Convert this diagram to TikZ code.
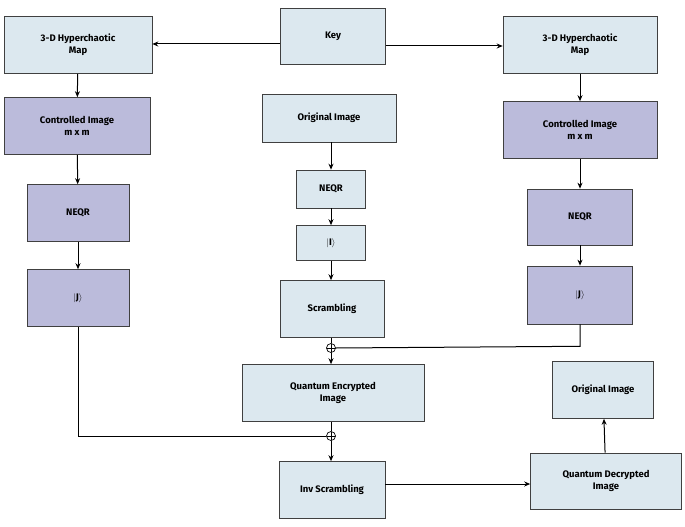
\documentclass[tikz,border=0pt]{standalone}
\usepackage{fontspec}
\setmainfont{Fira Sans}
\usetikzlibrary{arrows.meta}
\definecolor{lb}{HTML}{DCE8EF}
\definecolor{pu}{HTML}{BBBBDB}
\begin{document}
\begin{tikzpicture}[x=1pt,y=-1pt,
 bx/.style={draw=black!75,line width=0.6pt,fill=lb,align=center,font=\bfseries\fontsize{9.5}{12}\selectfont,inner sep=0pt},
 pb/.style={bx,fill=pu},
 ar/.style={-{Stealth[length=6pt,width=5pt]},line width=1pt},
 ln/.style={line width=1pt},
 ox/.style={circle,draw,line width=0.7pt,minimum size=9pt,inner sep=0pt,
   path picture={\draw[line width=0.7pt] (path picture bounding box.north)--(path picture bounding box.south) (path picture bounding box.west)--(path picture bounding box.east);}}]
\useasboundingbox[fill=white] (0,0) rectangle (685,527);
\node[bx,minimum width=105,minimum height=56] (key) at (333,36) {Key};
\node[bx,minimum width=148,minimum height=57] (lh) at (78,45) {3-D Hyperchaotic\\Map};
\node[bx,minimum width=154,minimum height=57] (rh) at (580,45) {3-D Hyperchaotic\\Map};
\node[pb,minimum width=146,minimum height=57] (lc) at (77,126) {Controlled Image\\m x m};
\node[bx,minimum width=134,minimum height=48] (oi) at (329,118) {Original Image};
\node[pb,minimum width=154,minimum height=57] (rc) at (580,130) {Controlled Image\\m x m};
\node[pb,minimum width=102,minimum height=57] (ln1) at (78,213) {NEQR};
\node[bx,minimum width=69,minimum height=38] (cn) at (331,189) {NEQR};
\node[pb,minimum width=105,minimum height=56] (rn) at (580,217) {NEQR};
\node[pb,minimum width=102,minimum height=57] (lj) at (78,298) {$|\mathbf{J}\rangle$};
\node[bx,minimum width=69,minimum height=35] (ci) at (331,243) {$|\mathbf{I}\rangle$};
\node[bx,minimum width=104,minimum height=57] (sc) at (332,309) {Scrambling};
\node[pb,minimum width=105,minimum height=58] (rj) at (580,295) {$|\mathbf{J}\rangle$};
\node[ox] (o1) at (331,348) {};
\node[bx,minimum width=182,minimum height=57] (qe) at (333,393) {Quantum Encrypted\\Image};
\node[ox] (o2) at (331,436) {};
\node[bx,minimum width=106,minimum height=57] (inv) at (332,490) {Inv Scrambling};
\node[bx,minimum width=101,minimum height=57] (ro) at (603,390) {Original Image};
\node[bx,minimum width=151,minimum height=56] (qd) at (606,481) {Quantum Decrypted\\Image};
\draw[ar] (key.west) ++(0,8) -- (lh.east|-0,44);
\draw[ar] (key.east) ++(0,10) -- (rh.west|-0,46);
\draw[ar] (lh) -- (lc);
\draw[ar] (lc) -- (ln1);
\draw[ar] (ln1) -- (lj);
\draw[ar] (rh) -- (rc);
\draw[ar] (rc) -- (rn);
\draw[ar] (rn) -- (rj);
\draw[ar] (oi.south-|cn) -- (cn);
\draw[ar] (cn) -- (ci);
\draw[ar] (ci) -- (sc.north-|ci);
\draw[ln] (sc.south-|o1) -- (o1);
\draw[ar] (o1) -- (qe.north-|o1);
\draw[ln] (qe.south-|o1) -- (o2);
\draw[ar] (o2) -- (inv.north-|o2);
\draw[ln] (rj.south) -- ++(0,22) -- (o1.east);
\draw[ln] (lj.south) |- (o2.west);
\draw[ar] (inv.east|-0,484) -- (qd.west|-0,484);
\draw[ar] (qd) -- (ro);
\end{tikzpicture}
\end{document}
